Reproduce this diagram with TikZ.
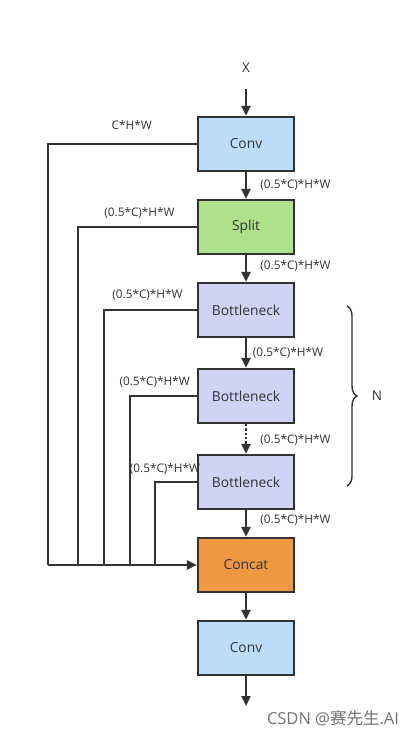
\documentclass[tikz,border=0pt]{standalone}
\usepackage{fontspec}
\setmainfont{Open Sans}
\newfontfamily\cjkfont{Noto Sans CJK SC}
\usetikzlibrary{arrows.meta,decorations.pathreplacing}
\definecolor{lc}{HTML}{333333}
\definecolor{convc}{HTML}{BBDDF9}
\definecolor{splitc}{HTML}{ADE18A}
\definecolor{bnc}{HTML}{D0D2F6}
\definecolor{catc}{HTML}{EF9843}
\begin{document}
\begin{tikzpicture}[x=1pt,y=-1pt,
  blk/.style={draw=lc,line width=2.2pt,minimum width=96pt,minimum height=54pt,inner sep=0pt,font=\fontsize{13.8}{16}\selectfont,text=lc},
  arr/.style={draw=lc,line width=2.2pt,-{Triangle[length=10pt,width=9pt]}},
  ln/.style={draw=lc,line width=2.2pt},
  lbl/.style={font=\fontsize{11.8}{14}\selectfont,text=lc,inner sep=0pt}]
\useasboundingbox (0,0) rectangle (416,736);
\fill[white] (0,0) rectangle (416,736);
\node[blk,fill=convc] (conv1) at (246,144) {Conv};
\node[blk,fill=splitc] (split) at (246,227) {Split};
\node[blk,fill=bnc] (b1) at (246,310) {Bottleneck};
\node[blk,fill=bnc] (b2) at (246,396) {Bottleneck};
\node[blk,fill=bnc] (b3) at (246,482) {Bottleneck};
\node[blk,fill=catc] (cat) at (246,565) {Concat};
\node[blk,fill=convc] (conv2) at (246,648) {Conv};
\node[lbl,font=\fontsize{13.5}{16}\selectfont] (x) at (246,68) {X};
\coordinate (xin) at (246,89);
\coordinate (out) at (246,706);
\draw[arr] (xin) -- (conv1);
\draw[arr] (conv1) -- (split);
\draw[arr] (split) -- (b1);
\draw[arr] (b1) -- (b2);
\coordinate (dd) at (246,443);
\draw[ln,dotted] (b2) -- (dd);
\draw[arr] (dd) -- (b3);
\draw[arr] (b3) -- (cat);
\draw[arr] (cat) -- (conv2);
\draw[arr] (conv2) -- (out);
% skip connections
\coordinate (c0t) at (48,144); \coordinate (c0b) at (48,565);
\coordinate (c1t) at (78,227); \coordinate (c1b) at (78,565);
\coordinate (c2t) at (104,310); \coordinate (c2b) at (104,565);
\coordinate (c3t) at (130,396); \coordinate (c3b) at (130,565);
\coordinate (c4t) at (155,482); \coordinate (c4b) at (155,565);
\draw[ln] (conv1.west) -- (c0t) -- (c0b);
\draw[ln] (split.west) -- (c1t) -- (c1b);
\draw[ln] (b1.west) -- (c2t) -- (c2b);
\draw[ln] (b2.west) -- (c3t) -- (c3b);
\draw[ln] (b3.west) -- (c4t) -- (c4b);
\draw[arr] (c0b) -- (cat.west);
% labels
\node[lbl] (l0) at (131.7,125) {C*H*W};
\node[lbl] (l1) at (139.5,213) {(0.5*C)*H*W};
\node[lbl] (l2) at (147.5,295) {(0.5*C)*H*W};
\node[lbl] (l3) at (154.7,382) {(0.5*C)*H*W};
\node[lbl] (l4) at (165,469) {(0.5*C)*H*W};
\node[lbl] (r1) at (295.5,185) {(0.5*C)*H*W};
\node[lbl] (r2) at (295.5,266) {(0.5*C)*H*W};
\node[lbl] (r3) at (288,353) {(0.5*C)*H*W};
\node[lbl] (r4) at (295.5,440) {(0.5*C)*H*W};
\node[lbl] (r5) at (295.5,520) {(0.5*C)*H*W};
% brace
\coordinate (bt) at (347,306);
\coordinate (bb) at (347,486);
\draw[lc,line width=1.4pt,decorate,decoration={brace,amplitude=10pt}] (bt) -- (bb);
\node[lbl,font=\fontsize{13.5}{16}\selectfont] (n) at (377,396) {N};
\node[font=\fontsize{16.5}{19}\selectfont,text=black!55,inner sep=0pt] (wm) at (333,718) {CSDN @{\cjkfont 赛先生}.AI};
\end{tikzpicture}
\end{document}
